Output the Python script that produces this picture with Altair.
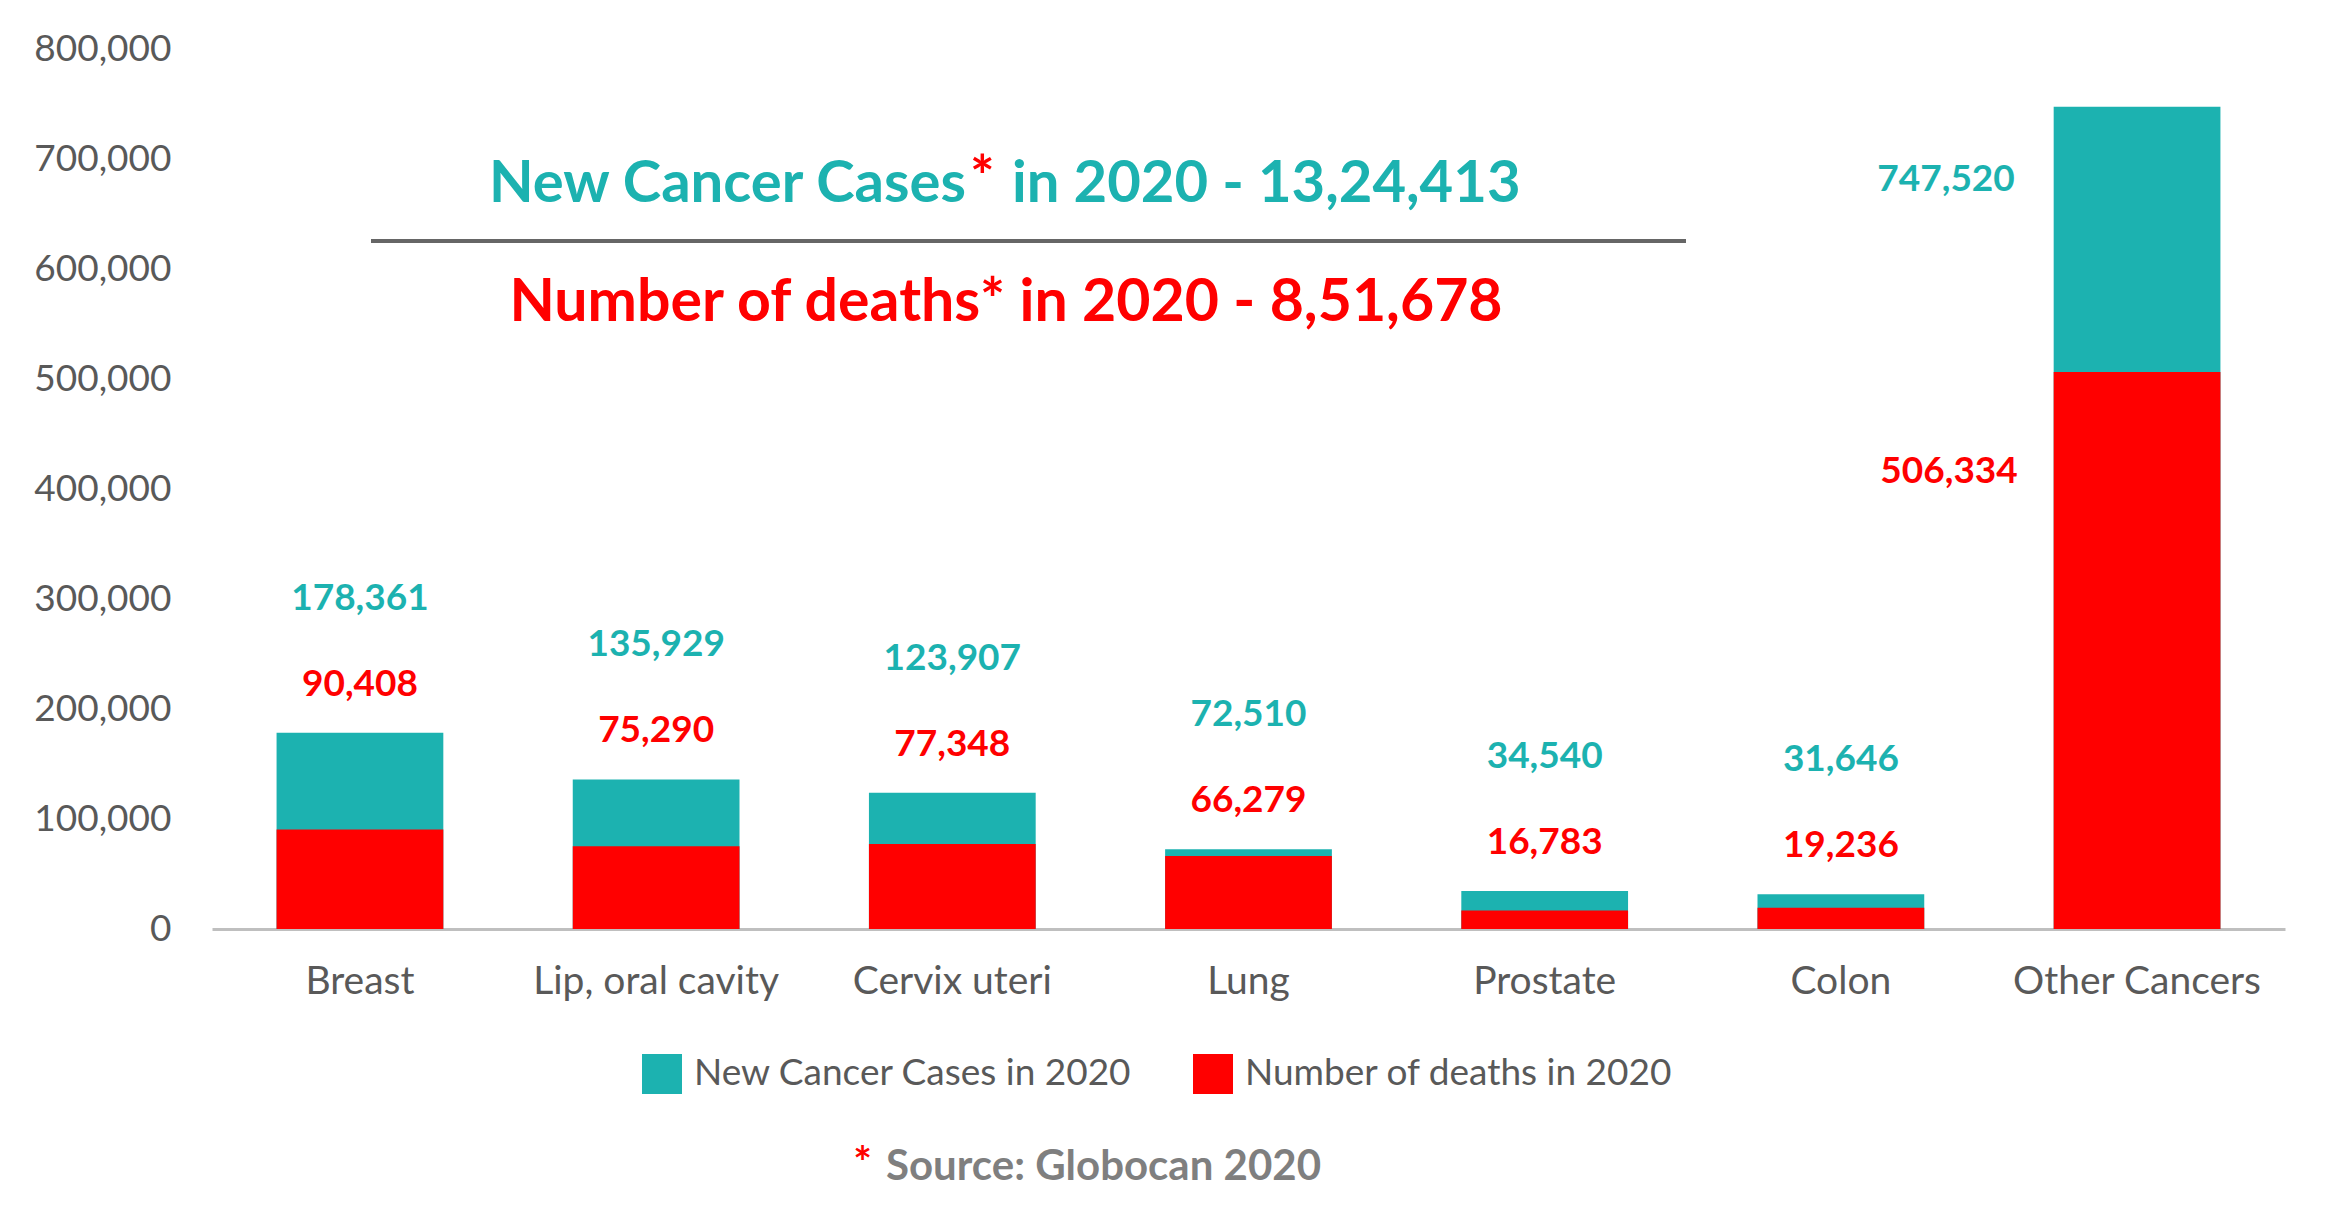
import altair as alt
import pandas as pd

categories = ["Breast", "Lip, oral cavity", "Cervix uteri", "Lung", "Prostate", "Colon", "Other Cancers"]
new_cases = [178361, 135929, 123907, 72510, 34540, 31646, 747520]
deaths = [90408, 75290, 77348, 66279, 16783, 19236, 506334]
series = ["New Cancer Cases in 2020", "Number of deaths in 2020"]
y_ticks = [0, 100000, 200000, 300000, 400000, 500000, 600000, 700000, 800000]

title_cases_a = "New Cancer Cases"
title_cases_b = "in 2020 - 13,24,413"
title_deaths = "Number of deaths* in 2020 - 8,51,678"
source_text = "Source: Globocan 2020"

TEAL = "#1cb2b0"
RED = "#ff0000"
GRAY = "#595959"
FONT = "Lato"

rows = []
for c, v in zip(categories, new_cases):
    rows.append({"category": c, "series": series[0], "value": v})
for c, v in zip(categories, deaths):
    rows.append({"category": c, "series": series[1], "value": v})
df = pd.DataFrame(rows)
wide = pd.DataFrame({"category": categories, "new_cases": new_cases, "deaths": deaths})

W, H = 2073, 880

x_enc = alt.X(
    "category:N", sort=categories,
    scale=alt.Scale(paddingInner=0.437, paddingOuter=0.218),
    axis=alt.Axis(title=None, labelAngle=0, ticks=False, domainColor="#bfbfbf", domainWidth=3,
                  labelFontSize=39, labelColor=GRAY, labelFont=FONT, labelPadding=33, labelLimit=600),
)
y_axis = alt.Axis(title=None, values=y_ticks, format=",.0f", grid=False, domain=False, ticks=False,
                  labelFontSize=37, labelColor=GRAY, labelFont=FONT, labelPadding=41)
y_scale = alt.Scale(domain=[0, 800000], nice=False)
y_enc = alt.Y("value:Q", stack=None, scale=y_scale, axis=y_axis)
color_enc = alt.Color(
    "series:N",
    scale=alt.Scale(domain=series, range=[TEAL, RED]),
    legend=alt.Legend(title=None, orient="none", legendX=430, legendY=1005, direction="horizontal",
                      symbolType="square", symbolSize=1600, symbolStrokeWidth=0, symbolOpacity=1,
                      labelFontSize=37, labelColor=GRAY, labelFont=FONT, labelLimit=800,
                      columnPadding=60, labelOffset=12),
)

base = alt.Chart(df)
teal_bars = base.transform_filter(alt.datum.series == series[0]).mark_bar().encode(x=x_enc, y=y_enc, color=color_enc)
red_bars = base.transform_filter(alt.datum.series == series[1]).mark_bar().encode(x=x_enc, y=y_enc, color=color_enc)

wbase = alt.Chart(wide)

def labels(anchor, field, col, dx, dy, other):
    cond = (alt.datum.category == "Other Cancers") if other else (alt.datum.category != "Other Cancers")
    return wbase.transform_filter(cond).mark_text(
        color=col, fontWeight="bold", fontSize=37, font=FONT, dx=dx, dy=dy, baseline="middle"
    ).encode(
        x=alt.X("category:N", sort=categories),
        y=alt.Y(f"{anchor}:Q", scale=y_scale, axis=y_axis),
        text=alt.Text(f"{field}:Q", format=","),
    )

teal_lbl = labels("new_cases", "new_cases", TEAL, 0, -134, False)
red_lbl = labels("new_cases", "deaths", RED, 0, -48, False)
teal_lbl_o = labels("new_cases", "new_cases", TEAL, -191, 73, True)
red_lbl_o = labels("deaths", "deaths", RED, -188, 100, True)

dummy = alt.Chart(pd.DataFrame({"a": [0]}))

def note(text, x, y, color, size, align="center"):
    return dummy.mark_text(text=text, color=color, fontSize=size, fontWeight="bold", font=FONT,
                           align=align, baseline="middle").encode(x=alt.value(x), y=alt.value(y))

t1a = note(title_cases_a, 754, 136, TEAL, 58, "right")
t1s = note("*", 758, 131, RED, 58, "left")
t1b = note(title_cases_b, 800, 136, TEAL, 58, "left")
sep = dummy.mark_rule(color="#666666", strokeWidth=4).encode(x=alt.value(159), x2=alt.value(1474), y=alt.value(192))
t2 = note(title_deaths, 794, 254, RED, 59, "center")
s_star = note("*", 660, 1116, RED, 44, "right")
s_txt = note(source_text, 674, 1118, "#7f7f7f", 42, "left")

chart = alt.layer(
    teal_bars, red_bars, teal_lbl, red_lbl, teal_lbl_o, red_lbl_o,
    t1a, t1s, t1b, sep, t2, s_star, s_txt
).properties(
    width=W, height=H,
    padding={"left": 212, "top": 49, "right": 52, "bottom": 293},
    autosize=alt.AutoSizeParams(type="none"),
).configure(font=FONT, background="white").configure_view(stroke=None, strokeWidth=0)

chart.save("out.html", embed_options={"renderer": "svg", "actions": False})
